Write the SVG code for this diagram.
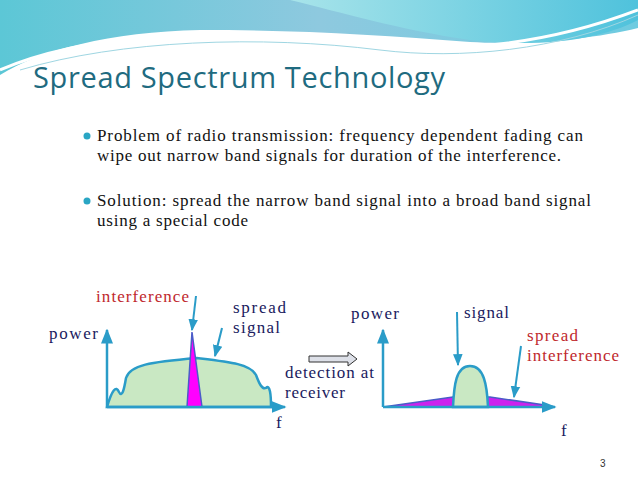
<svg xmlns="http://www.w3.org/2000/svg" width="638" height="479" viewBox="0 0 638 479">
<defs>
<linearGradient id="g1" x1="0" y1="0" x2="1" y2="0"><stop offset="0" stop-color="#5cc7d6"/><stop offset="0.5" stop-color="#8ec9df"/><stop offset="1" stop-color="#6ecbe0"/></linearGradient>
<linearGradient id="g2" x1="0" y1="0" x2="1" y2="0"><stop offset="0" stop-color="#a8e4ea"/><stop offset="1" stop-color="#4fc2dc"/></linearGradient>
<marker id="ah" viewBox="0 0 10 10" refX="9" refY="5" markerWidth="6" markerHeight="6" orient="auto"><path d="M0,1 L10,5 L0,9 z" fill="#2a9cc8"/></marker>
<style>
.t{font-family:"Liberation Serif",serif;font-size:17px;fill:#1a1a5e}
.r{fill:#c0282d}
.ax{stroke:#2a9cc8;stroke-width:2.5;fill:none}
.cv{stroke:#2a9cc8;stroke-width:2.5}
.ar{stroke:#2a9cc8;stroke-width:2;fill:none}
.b{font-family:"Liberation Serif",serif;font-size:17px;fill:#111}
</style>
</defs>
<rect width="638" height="479" fill="#fff"/>
<g id="header">
<path d="M0,0 H638 V28 C590,40 520,45 470,42 C380,35 300,30 200,30 C110,32 40,50 0,75 Z" fill="url(#g1)"/>
<path d="M290,0 H638 V20 C600,40 540,48 470,40 C400,30 340,12 290,0 Z" fill="url(#g2)"/>
<path d="M0,70 C80,35 220,25 330,40 C420,52 520,55 638,10" stroke="#ffffff" stroke-width="3" fill="none"/>
<path d="M20,70 C120,40 260,35 380,50 C460,60 560,50 638,15" stroke="#9fd6e2" stroke-width="1" fill="none"/>
</g>
<text x="33" y="88" font-family="'Open Sans','Liberation Sans',sans-serif" font-size="29" fill="#1f6b80" textLength="412">Spread Spectrum Technology</text>
<g id="bullets">
<circle cx="87" cy="136" r="3.5" fill="#2aa6c4"/>
<text class="b" x="97" y="141" textLength="486">Problem of radio transmission: frequency dependent fading can</text>
<text class="b" x="97" y="161" textLength="464">wipe out narrow band signals for duration of the interference.</text>
<circle cx="87" cy="201" r="3.5" fill="#2aa6c4"/>
<text class="b" x="97" y="206" textLength="494">Solution: spread the narrow band signal into a broad band signal</text>
<text class="b" x="97" y="226" textLength="151">using a special code</text>
</g>
<g id="left-chart">
<path d="M107,407 C112,390 116,385 119,392 C122,398 124,390 126,378 C130,365 150,362 197,358 C230,362 250,364 256,375 C259,383 262,390 266,388 C270,384 271,395 271,407 Z" fill="#c9e8c3" class="cv"/>
<path d="M187,407 L192,332 L202,407 Z" fill="#ff00ff" stroke="#4a5cc8" stroke-width="1.5"/>
<line class="ax" x1="107" y1="407" x2="107" y2="330" marker-end="url(#ah)"/>
<line class="ax" x1="107" y1="407" x2="285" y2="407" marker-end="url(#ah)"/>
</g>
<g id="right-chart">
<path d="M383,407 L453,397 L490,397 L545,405 L555,407 Z" fill="#cc22ee" stroke="#4a5cc8" stroke-width="1.5"/>
<path d="M453,407 C454,385 456,366 470,366 C484,366 487,385 488,407 Z" fill="#c9e8c3" class="cv"/>
<line class="ax" x1="383" y1="407" x2="383" y2="330" marker-end="url(#ah)"/>
<line class="ax" x1="383" y1="407" x2="555" y2="407" marker-end="url(#ah)"/>
</g>
<g id="connectors">
<line class="ar" x1="196" y1="296" x2="192" y2="330" marker-end="url(#ah)"/>
<line class="ar" x1="222" y1="328" x2="215" y2="356" marker-end="url(#ah)"/>
<line class="ar" x1="457" y1="312" x2="458" y2="365" marker-end="url(#ah)"/>
<line class="ar" x1="521" y1="346" x2="514" y2="397" marker-end="url(#ah)"/>
<path d="M309,356 H348 V352 L357,359 L348,366 V362 H309 Z" fill="#dde0e8" stroke="#333" stroke-width="1"/>
</g>
<g id="labels">
<text class="t r" x="96" y="302" textLength="93">interference</text>
<text class="t" x="233" y="313" textLength="53">spread</text>
<text class="t" x="233" y="333" textLength="47">signal</text>
<text class="t" x="49" y="339" textLength="49">power</text>
<text class="t" x="276" y="428">f</text>
<text class="t" x="285" y="378" textLength="89">detection at</text>
<text class="t" x="285" y="398" textLength="60">receiver</text>
<text class="t" x="351" y="319" textLength="48">power</text>
<text class="t" x="464" y="318" textLength="45">signal</text>
<text class="t r" x="527" y="341" textLength="51">spread</text>
<text class="t r" x="527" y="361" textLength="92">interference</text>
<text class="t" x="561" y="436">f</text>
<text x="600" y="467" font-family="'Liberation Sans',sans-serif" font-size="10" fill="#333">3</text>
</g>
</svg>
